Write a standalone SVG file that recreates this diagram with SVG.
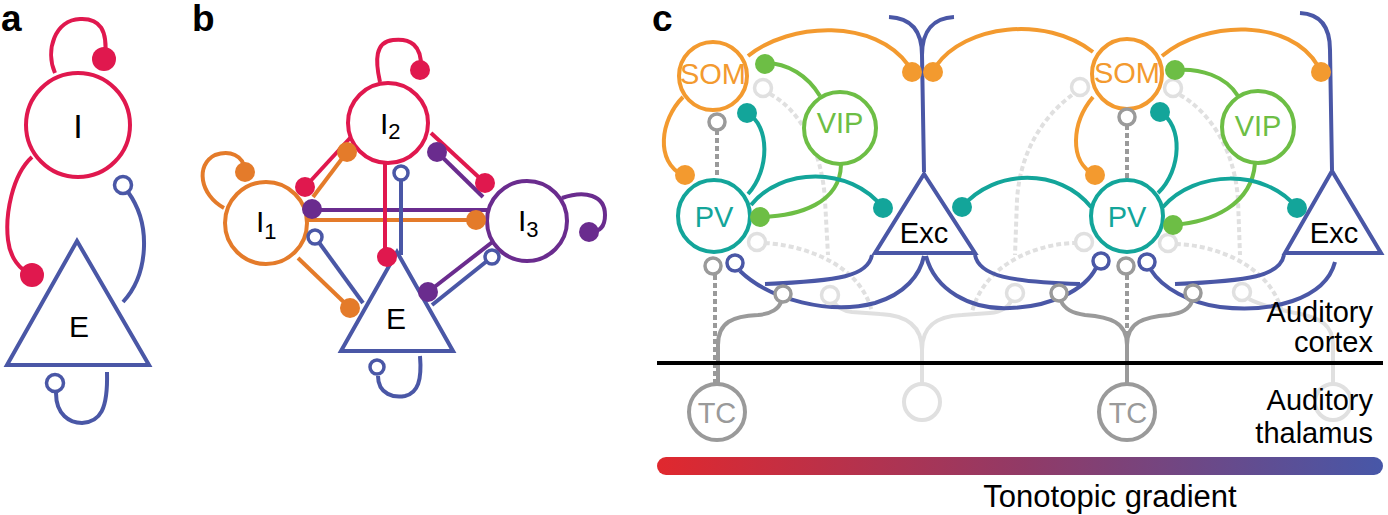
<svg xmlns="http://www.w3.org/2000/svg" width="1388" height="515" viewBox="0 0 1388 515">
<defs>
<linearGradient id="tono" x1="0" y1="0" x2="1" y2="0">
<stop offset="0" stop-color="#e0282e"/>
<stop offset="0.5" stop-color="#923a66"/>
<stop offset="1" stop-color="#4757a8"/>
</linearGradient>
</defs>
<style>
text{font-family:"Liberation Sans",Arial,sans-serif}
.lbl{font-weight:bold;font-size:37px;fill:#000}
.ln{fill:none;stroke-width:4}
.nd{fill:#fff;stroke-width:4}
.op{fill:#fff;stroke-width:3.5}
.dash{fill:none;stroke-width:4;stroke-dasharray:5 3}
.r{stroke:#e0184e}.b{stroke:#4a57a6}.o{stroke:#e47b2a}.p{stroke:#6a2c8e}
.oc{stroke:#f39a2f}.g{stroke:#6dbe45}.t{stroke:#13a59a}.gr{stroke:#9a9a9a}.lg{stroke:#e0e0e0}
.fr{fill:#e0184e}.fo{fill:#e47b2a}.fp{fill:#6a2c8e}.foc{fill:#f39a2f}.fg{fill:#6dbe45}.ft{fill:#13a59a}
.big{font-size:30px;fill:#000}
.cn{font-size:29px;text-anchor:middle}
</style>

<!-- panel labels -->
<text class="lbl" x="1" y="31">a</text>
<text class="lbl" x="192" y="31">b</text>
<text class="lbl" x="652" y="31">c</text>

<!-- ===== connectors ===== -->
<g id="connectors">
<!-- panel a -->
<path class="ln r" d="M55,73 C45,50 55,20 80,19 C100,18 108,30 105,58"/>
<path class="ln r" d="M32,157 C12,175 5,215 8,240 C10,258 20,270 32,275"/>
<path class="ln b" d="M123,302 C148,275 152,225 128,192"/>
<path class="ln b" d="M56,393 C56,415 70,423 82,423 C100,422 108,410 107,372"/>

<!-- panel b -->
<path class="ln r" d="M380,82 C375,60 375,42 393,40 C410,38 422,45 421,68"/>
<path class="ln o" d="M224,208 C200,195 195,165 215,155 C230,150 243,155 245,170"/>
<path class="ln p" d="M562,198 C585,190 605,195 605,215 C605,228 598,232 590,232"/>
<line class="ln r" x1="351" y1="137" x2="305" y2="187"/>
<line class="ln o" x1="313" y1="197" x2="347" y2="152"/>
<line class="ln r" x1="431" y1="133" x2="485" y2="183"/>
<line class="ln p" x1="483" y1="197" x2="437" y2="152"/>
<line class="ln p" x1="490" y1="210" x2="312" y2="210"/>
<line class="ln o" x1="307" y1="220" x2="476" y2="220"/>
<line class="ln r" x1="385" y1="160" x2="385" y2="257"/>
<line class="ln b" x1="401" y1="255" x2="401" y2="173"/>
<line class="ln b" x1="363" y1="303" x2="315" y2="237"/>
<line class="ln o" x1="298" y1="258" x2="350" y2="308"/>
<line class="ln p" x1="495" y1="240" x2="428" y2="292"/>
<line class="ln b" x1="432" y1="305" x2="492" y2="257"/>
<path class="ln b" d="M378,376 C378,395 395,398 405,396 C418,393 422,380 420,356"/>

<!-- panel c : faded (light gray) -->
<path class="dash lg" d="M770,94 C800,110 822,150 825,200 L828,255"/>
<path class="dash lg" d="M765,243 C800,245 860,262 872,312"/>
<path class="dash lg" d="M1072,95 C1045,115 1020,150 1017,200 L1015,255"/>
<path class="dash lg" d="M1077,243 C1040,243 985,262 972,312"/>
<path class="dash lg" d="M1180,95 C1210,112 1235,150 1238,200 L1240,255"/>
<path class="dash lg" d="M1176,244 C1215,245 1270,265 1282,312"/>
<path class="ln lg" d="M922,385 L922,350 C922,325 905,315 880,314 L852,312 C842,311 836,306 834,302"/>
<path class="ln lg" d="M922,350 C922,325 938,316 962,315 L990,313 C1002,312 1009,306 1011,301"/>
<path class="ln lg" d="M1333,384 L1333,345 C1333,325 1320,318 1300,314 C1280,310 1262,306 1249,299"/>

<!-- panel c : thalamocortical (gray) -->
<path class="dash gr" d="M717,130 L717,178"/>
<path class="dash gr" d="M1127,125 L1127,178"/>
<path class="dash gr" d="M715,275 L715,383"/>
<path class="dash gr" d="M1127,275 L1127,345"/>
<path class="ln gr" d="M718,383 L718,345 C718,322 733,316 758,315 C772,314 779,308 781,302"/>
<path class="ln gr" d="M1127,383 L1127,345 C1127,322 1110,317 1085,315 C1070,313 1064,308 1061,301"/>
<path class="ln gr" d="M1127,345 C1127,322 1144,317 1169,315 C1184,313 1190,308 1192,301"/>

<!-- panel c : orange (SOM) -->
<path class="ln oc" d="M748,56 C790,22 875,18 909,66"/>
<path class="ln oc" d="M936,66 C965,25 1045,15 1093,52"/>
<path class="ln oc" d="M1162,56 C1205,20 1290,18 1318,66"/>
<path class="ln oc" d="M683,97 C660,120 655,162 683,175"/>
<path class="ln oc" d="M1093,97 C1072,122 1068,162 1095,175"/>

<!-- panel c : green (VIP) -->
<path class="ln g" d="M820,96 C808,76 788,63 765,63"/>
<path class="ln g" d="M841,165 C840,203 800,216 760,217"/>
<path class="ln g" d="M1238,96 C1226,76 1200,68 1175,70"/>
<path class="ln g" d="M1255,163 C1252,205 1212,222 1173,225"/>

<!-- panel c : teal (PV) -->
<path class="ln t" d="M748,194 C770,170 770,125 747,113"/>
<path class="ln t" d="M1158,193 C1182,170 1183,125 1160,112"/>
<path class="ln t" d="M751,205 C780,168 850,165 883,208"/>
<path class="ln t" d="M1163,207 C1195,170 1265,168 1297,208"/>
<path class="ln t" d="M1091,207 C1060,168 995,168 962,207"/>

<!-- panel c : blue (Exc) -->
<path class="ln b" d="M889,17 C910,18 922,30 922,55 L924,172"/>
<path class="ln b" d="M954,17 C934,18 922,30 922,55"/>
<path class="ln b" d="M1300,13 C1320,14 1330,26 1330,50 L1332,170"/>
<path class="ln b" d="M740,271 C770,300 830,315 875,303 C905,294 920,275 924,256"/>
<path class="ln b" d="M872,255 C868,276 840,281 765,284"/>
<path class="ln b" d="M975,255 C979,276 1010,282 1080,284"/>
<path class="ln b" d="M926,256 C935,290 970,310 1010,308 C1050,307 1085,290 1096,268"/>
<path class="ln b" d="M1284,255 C1280,276 1250,281 1175,284"/>
<path class="ln b" d="M1335,262 C1325,300 1270,313 1220,307 C1190,303 1162,288 1151,270"/>
</g>

<!-- ===== nodes ===== -->
<g id="a-I"><circle class="nd r" cx="78" cy="125" r="52"/><text x="78" y="138" font-size="34" text-anchor="middle" fill="#000">I</text></g>
<g id="a-E"><polygon class="nd b" stroke-width="4.5" points="77,241 7,365 149,365"/><text class="big" x="79" y="337" text-anchor="middle">E</text></g>

<g id="b-I1"><circle class="nd o" cx="266" cy="223" r="41"/><text class="big" x="256" y="232">I<tspan font-size="22" dy="7">1</tspan></text></g>
<g id="b-I2"><circle class="nd r" cx="388" cy="123" r="40"/><text class="big" x="380" y="134">I<tspan font-size="22" dy="5">2</tspan></text></g>
<g id="b-I3"><circle class="nd p" cx="527" cy="221" r="40"/><text class="big" x="518" y="231">I<tspan font-size="22" dy="6">3</tspan></text></g>
<g id="b-E"><polygon class="nd b" points="397,252 341,351 453,351"/><text class="big" x="396" y="329" text-anchor="middle">E</text></g>

<g id="c-SOM1"><circle class="nd oc" cx="713" cy="76" r="34"/><text class="cn" x="713" y="84" fill="#f39a2f">SOM</text></g>
<g id="c-VIP1"><circle class="nd g" cx="840" cy="128" r="36"/><text class="cn" x="840" y="133" fill="#6dbe45">VIP</text></g>
<g id="c-PV1"><circle class="nd t" cx="714" cy="216" r="36"/><text class="cn" x="714" y="227" fill="#13a59a">PV</text></g>
<g id="c-Exc1"><polygon class="nd b" points="924,174 875,253 975,253"/><text class="cn" x="924" y="243" fill="#000">Exc</text></g>
<g id="c-SOM2"><circle class="nd oc" cx="1127" cy="74" r="35"/><text class="cn" x="1127" y="83" fill="#f39a2f">SOM</text></g>
<g id="c-VIP2"><circle class="nd g" cx="1258" cy="127" r="36"/><text class="cn" x="1258" y="136" fill="#6dbe45">VIP</text></g>
<g id="c-PV2"><circle class="nd t" cx="1127" cy="216" r="36"/><text class="cn" x="1127" y="227" fill="#13a59a">PV</text></g>
<g id="c-Exc2"><polygon class="nd b" points="1332,171 1285,253 1381,253"/><text class="cn" x="1334" y="243" fill="#000">Exc</text></g>
<g id="c-TC1"><circle class="nd gr" cx="717" cy="412" r="28"/><text class="cn" x="717" y="423" fill="#9a9a9a">TC</text></g>
<g id="c-TC2"><circle class="nd gr" cx="1127" cy="412" r="28"/><text class="cn" x="1128" y="423" fill="#9a9a9a">TC</text></g>
<g id="c-TC-faded1"><circle class="nd lg" cx="922" cy="402" r="18"/></g>
<g id="c-TC-faded2"><circle class="nd lg" cx="1333" cy="402" r="18"/></g>

<!-- ===== synaptic terminals ===== -->
<g id="synapses">
<!-- a -->
<circle class="fr" cx="104" cy="59" r="12"/>
<circle class="fr" cx="32" cy="275" r="12"/>
<circle class="op b" stroke-width="4" cx="123" cy="185" r="8.5"/>
<circle class="op b" stroke-width="4" cx="55" cy="383" r="8.5"/>
<!-- b -->
<circle class="fr" cx="420" cy="70" r="10"/>
<circle class="fo" cx="245" cy="172" r="10"/>
<circle class="fp" cx="589" cy="232" r="10"/>
<circle class="fr" cx="305" cy="187" r="10"/>
<circle class="fo" cx="347" cy="152" r="10"/>
<circle class="fr" cx="485" cy="183" r="10"/>
<circle class="fp" cx="437" cy="152" r="10"/>
<circle class="fp" cx="312" cy="209" r="10"/>
<circle class="fo" cx="476" cy="220" r="10"/>
<circle class="fr" cx="387" cy="257" r="10"/>
<circle class="op b" cx="401" cy="173" r="7"/>
<circle class="op b" cx="315" cy="237" r="7"/>
<circle class="fo" cx="350" cy="308" r="10"/>
<circle class="fp" cx="428" cy="292" r="10"/>
<circle class="op b" cx="492" cy="257" r="7"/>
<circle class="op b" cx="377" cy="367" r="7"/>
<!-- c light gray -->
<circle class="op lg" stroke-width="4" cx="763" cy="88" r="8.5"/>
<circle class="op lg" stroke-width="4" cx="757" cy="242" r="8.5"/>
<circle class="op lg" stroke-width="4" cx="830" cy="295" r="8.5"/>
<circle class="op lg" stroke-width="4" cx="1015" cy="293" r="8.5"/>
<circle class="op lg" stroke-width="4" cx="1080" cy="87" r="8.5"/>
<circle class="op lg" stroke-width="4" cx="1084" cy="242" r="8.5"/>
<circle class="op lg" stroke-width="4" cx="1173" cy="88" r="8.5"/>
<circle class="op lg" stroke-width="4" cx="1168" cy="243" r="8.5"/>
<circle class="op lg" stroke-width="4" cx="1242" cy="292" r="8.5"/>
<!-- c gray -->
<circle class="op gr" cx="717" cy="122" r="8"/>
<circle class="op gr" cx="1127" cy="117" r="8"/>
<circle class="op gr" cx="713" cy="266" r="8"/>
<circle class="op gr" cx="1126" cy="266" r="8"/>
<circle class="op gr" cx="783" cy="294" r="8"/>
<circle class="op gr" cx="1059" cy="293" r="8"/>
<circle class="op gr" cx="1193" cy="293" r="8"/>
<!-- c blue -->
<circle class="op b" cx="735" cy="263" r="8"/>
<circle class="op b" cx="1101" cy="261" r="8"/>
<circle class="op b" cx="1147" cy="262" r="8"/>
<!-- c orange -->
<circle class="foc" cx="912" cy="72" r="10"/>
<circle class="foc" cx="933" cy="72" r="10"/>
<circle class="foc" cx="1321" cy="72" r="10"/>
<circle class="foc" cx="685" cy="175" r="10"/>
<circle class="foc" cx="1095" cy="175" r="10"/>
<!-- c green -->
<circle class="fg" cx="765" cy="64" r="10"/>
<circle class="fg" cx="760" cy="217" r="10"/>
<circle class="fg" cx="1175" cy="70" r="10"/>
<circle class="fg" cx="1173" cy="225" r="10"/>
<!-- c teal -->
<circle class="ft" cx="747" cy="113" r="10"/>
<circle class="ft" cx="1160" cy="112" r="10"/>
<circle class="ft" cx="883" cy="208" r="10"/>
<circle class="ft" cx="1297" cy="208" r="10"/>
<circle class="ft" cx="962" cy="207" r="10"/>
</g>

<!-- boundary, labels and gradient -->
<line x1="657" y1="363" x2="1383" y2="363" stroke="#000" stroke-width="4"/>
<g font-size="29" fill="#000" text-anchor="end">
<text x="1373" y="322">Auditory</text>
<text x="1373" y="352">cortex</text>
<text x="1373" y="410">Auditory</text>
<text x="1373" y="443">thalamus</text>
</g>
<rect x="657" y="457" width="726" height="18" rx="9" fill="url(#tono)"/>
<text x="1110" y="507" font-size="31" text-anchor="middle" fill="#000">Tonotopic gradient</text>
</svg>
